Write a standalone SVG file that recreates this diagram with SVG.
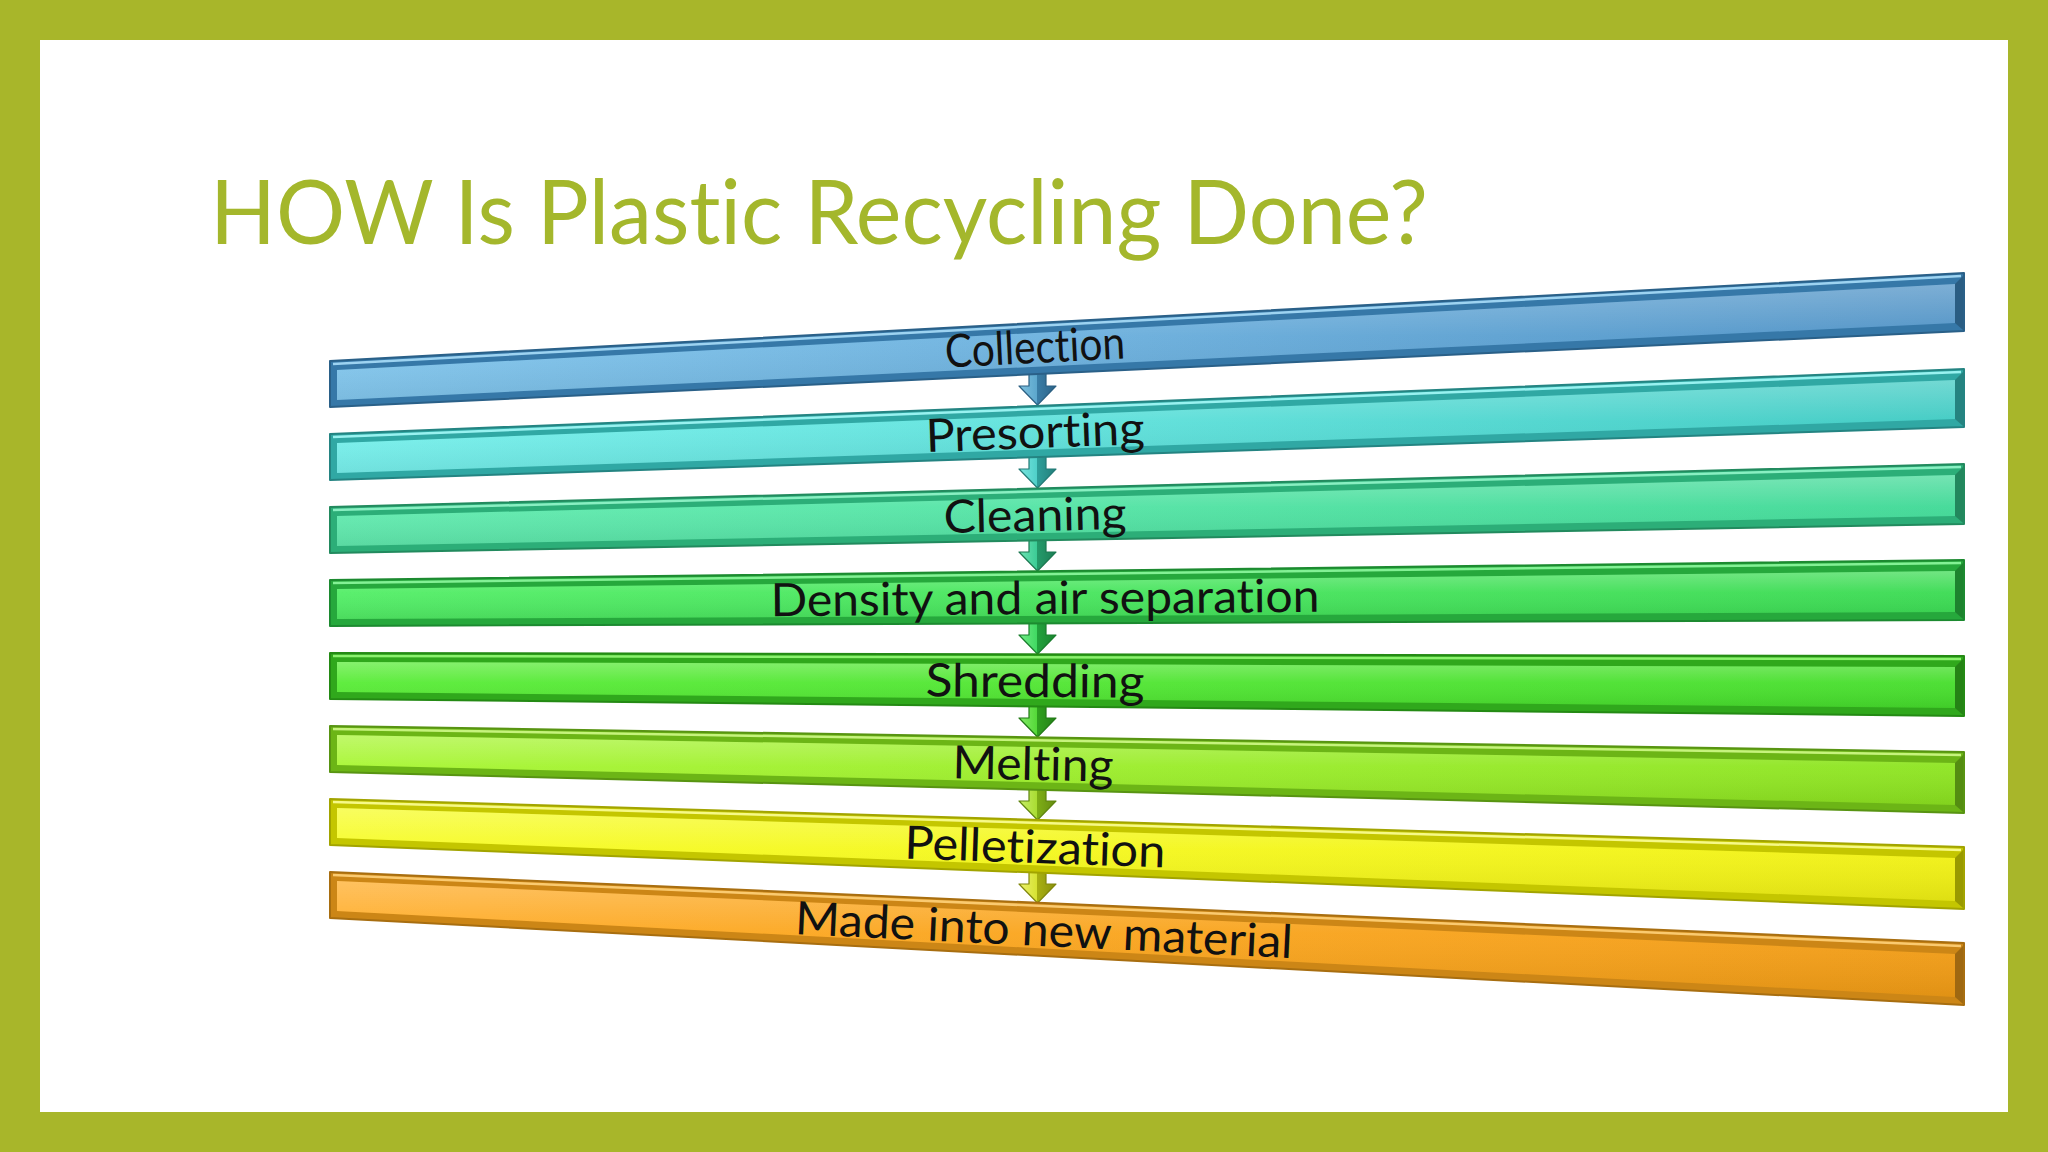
<svg xmlns="http://www.w3.org/2000/svg" width="2048" height="1152" viewBox="0 0 2048 1152">
<style>
text{font-variant-ligatures:none;font-feature-settings:"liga" 0,"clig" 0}
.title{font-family:Lato,"Open Sans","Liberation Sans",sans-serif;font-size:89px;font-weight:400;fill:#A4B72C}
.lbl{font-family:Lato,"Open Sans","Liberation Sans",sans-serif;font-size:46px;fill:#111;text-anchor:middle}
.hl{fill:none;stroke-width:2.5;opacity:.9}
.outer{stroke-width:2;stroke-linejoin:round}
.gloss{fill:url(#gloss)}
.cap{fill:#000;opacity:.22}
.arr{stroke-width:1.2;stroke-linejoin:round}
</style>
<defs>
<linearGradient id="gloss" x1="0" y1="0" x2="0" y2="1">
<stop offset="0" stop-color="#fff" stop-opacity=".28"/>
<stop offset=".45" stop-color="#fff" stop-opacity=".05"/>
<stop offset="1" stop-color="#000" stop-opacity=".08"/>
</linearGradient>
<linearGradient id="f0" x1="0" y1="0" x2="1" y2="0"><stop offset="0" stop-color="#86CBF2"/><stop offset="1" stop-color="#4A8FC4"/></linearGradient>
<linearGradient id="f1" x1="0" y1="0" x2="1" y2="0"><stop offset="0" stop-color="#7AF4F0"/><stop offset="1" stop-color="#3CCAC2"/></linearGradient>
<linearGradient id="f2" x1="0" y1="0" x2="1" y2="0"><stop offset="0" stop-color="#62ECB0"/><stop offset="1" stop-color="#3FD996"/></linearGradient>
<linearGradient id="f3" x1="0" y1="0" x2="1" y2="0"><stop offset="0" stop-color="#52EE66"/><stop offset="1" stop-color="#3ADB52"/></linearGradient>
<linearGradient id="f4" x1="0" y1="0" x2="1" y2="0"><stop offset="0" stop-color="#58EC36"/><stop offset="1" stop-color="#46DE2C"/></linearGradient>
<linearGradient id="f5" x1="0" y1="0" x2="1" y2="0"><stop offset="0" stop-color="#A8F632"/><stop offset="1" stop-color="#8DE420"/></linearGradient>
<linearGradient id="f6" x1="0" y1="0" x2="1" y2="0"><stop offset="0" stop-color="#F6FC22"/><stop offset="1" stop-color="#F2F214"/></linearGradient>
<linearGradient id="f7" x1="0" y1="0" x2="1" y2="0"><stop offset="0" stop-color="#FFAA22"/><stop offset="1" stop-color="#F49E16"/></linearGradient>
<linearGradient id="a0" x1="0" y1="0" x2="1" y2="0"><stop offset="0" stop-color="#7FC2E0"/><stop offset=".5" stop-color="#5BA6CC"/><stop offset=".5" stop-color="#3A7DA6"/><stop offset="1" stop-color="#2C6388"/></linearGradient>
<linearGradient id="a1" x1="0" y1="0" x2="1" y2="0"><stop offset="0" stop-color="#7AE6E0"/><stop offset=".5" stop-color="#4ECFC8"/><stop offset=".5" stop-color="#2E9E99"/><stop offset="1" stop-color="#237F7B"/></linearGradient>
<linearGradient id="a2" x1="0" y1="0" x2="1" y2="0"><stop offset="0" stop-color="#6EE4B4"/><stop offset=".5" stop-color="#3ACB95"/><stop offset=".5" stop-color="#249A6A"/><stop offset="1" stop-color="#1C7E55"/></linearGradient>
<linearGradient id="a3" x1="0" y1="0" x2="1" y2="0"><stop offset="0" stop-color="#74EC88"/><stop offset=".5" stop-color="#3ED860"/><stop offset=".5" stop-color="#22A23C"/><stop offset="1" stop-color="#1A8430"/></linearGradient>
<linearGradient id="a4" x1="0" y1="0" x2="1" y2="0"><stop offset="0" stop-color="#86EC6A"/><stop offset=".5" stop-color="#52D836"/><stop offset=".5" stop-color="#2FA01E"/><stop offset="1" stop-color="#258218"/></linearGradient>
<linearGradient id="a5" x1="0" y1="0" x2="1" y2="0"><stop offset="0" stop-color="#C8EE6A"/><stop offset=".5" stop-color="#A8DC30"/><stop offset=".5" stop-color="#7EAE16"/><stop offset="1" stop-color="#658C10"/></linearGradient>
<linearGradient id="a6" x1="0" y1="0" x2="1" y2="0"><stop offset="0" stop-color="#ECF270"/><stop offset=".5" stop-color="#D6E230"/><stop offset=".5" stop-color="#A8B012"/><stop offset="1" stop-color="#8A900C"/></linearGradient>
</defs>

<rect x="0" y="0" width="2048" height="1152" fill="#A8B62A"/>
<rect x="40" y="40" width="1968" height="1072" fill="#FFFFFF"/>

<text id="title" class="title" x="210" y="244" textLength="1218" lengthAdjust="spacingAndGlyphs">HOW Is Plastic Recycling Done?</text>

<g id="connectors">
<path class="arr" fill="url(#a0)" stroke="#2A5F82" d="M1029,366 H1046 V386 H1056 L1037.5,405 L1019,386 H1029 Z"/>
<path class="arr" fill="url(#a1)" stroke="#227A76" d="M1029,449 H1046 V469 H1056 L1037.5,488 L1019,469 H1029 Z"/>
<path class="arr" fill="url(#a2)" stroke="#1B7850" d="M1029,532 H1046 V552 H1056 L1037.5,571 L1019,552 H1029 Z"/>
<path class="arr" fill="url(#a3)" stroke="#187E2C" d="M1029,615 H1046 V635 H1056 L1037.5,654 L1019,635 H1029 Z"/>
<path class="arr" fill="url(#a4)" stroke="#227A16" d="M1029,698 H1046 V718 H1056 L1037.5,737 L1019,718 H1029 Z"/>
<path class="arr" fill="url(#a5)" stroke="#5E840E" d="M1029,781 H1046 V801 H1056 L1037.5,820 L1019,801 H1029 Z"/>
<path class="arr" fill="url(#a6)" stroke="#80860A" d="M1029,864 H1046 V884 H1056 L1037.5,903 L1019,884 H1029 Z"/>
</g>

<g id="step1">
<polygon class="outer" fill="#3678A8" stroke="#2A6088" points="330,361 1964,273 1964,331 330,407"/>
<polyline class="hl" stroke="#A8DDF8" points="333,364 1961,276"/>
<polygon fill="url(#f0)" points="337,370 1955,284 1955,323 337,400"/>
<polygon class="gloss" points="337,370 1955,284 1955,323 337,400"/>
<polygon class="cap" points="1955,284 1963,276 1963,330 1955,323"/>
<text class="lbl" x="1035" y="363" font-size="39" textLength="180" lengthAdjust="spacingAndGlyphs" transform="rotate(-2.87 1035 349)">Collection</text>
</g>

<g id="step2">
<polygon class="outer" fill="#30A8A4" stroke="#248482" points="330,434 1964,369 1964,427 330,480"/>
<polyline class="hl" stroke="#A4FAF8" points="333,437 1961,372"/>
<polygon fill="url(#f1)" points="337,443 1955,380 1955,419 337,473"/>
<polygon class="gloss" points="337,443 1955,380 1955,419 337,473"/>
<polygon class="cap" points="1955,380 1963,372 1963,426 1955,419"/>
<text class="lbl" x="1035" y="448" font-size="45" textLength="219" lengthAdjust="spacingAndGlyphs" transform="rotate(-2.07 1035 432)">Presorting</text>
</g>

<g id="step3">
<polygon class="outer" fill="#2CAE78" stroke="#228A5E" points="330,507 1964,464 1964,524 330,553"/>
<polyline class="hl" stroke="#94F6CA" points="333,510 1961,467"/>
<polygon fill="url(#f2)" points="337,516 1955,475 1955,516 337,546"/>
<polygon class="gloss" points="337,516 1955,475 1955,516 337,546"/>
<polygon class="cap" points="1955,475 1963,467 1963,523 1955,516"/>
<text class="lbl" x="1035" y="531" textLength="183" lengthAdjust="spacingAndGlyphs" transform="rotate(-1.26 1035 514)">Cleaning</text>
</g>

<g id="step4">
<polygon class="outer" fill="#26A83C" stroke="#1C8A30" points="330,580 1964,560 1964,620 330,626"/>
<polyline class="hl" stroke="#8EF89E" points="333,583 1961,563"/>
<polygon fill="url(#f3)" points="337,589 1955,571 1955,612 337,619"/>
<polygon class="gloss" points="337,589 1955,571 1955,612 337,619"/>
<polygon class="cap" points="1955,571 1963,563 1963,619 1955,612"/>
<text class="lbl" x="1045" y="614" textLength="549" lengthAdjust="spacingAndGlyphs" transform="rotate(-0.46 1045 597)">Density and air separation</text>
</g>

<g id="step5">
<polygon class="outer" fill="#30A81C" stroke="#248A14" points="330,653 1964,656 1964,716 330,699"/>
<polyline class="hl" stroke="#96F878" points="333,656 1961,659"/>
<polygon fill="url(#f4)" points="337,662 1955,667 1955,708 337,692"/>
<polygon class="gloss" points="337,662 1955,667 1955,708 337,692"/>
<polygon class="cap" points="1955,667 1963,659 1963,715 1955,708"/>
<text class="lbl" x="1035" y="697" textLength="219" lengthAdjust="spacingAndGlyphs" transform="rotate(0.35 1035 680)">Shredding</text>
</g>

<g id="step6">
<polygon class="outer" fill="#6CB516" stroke="#589412" points="330,726 1964,752 1964,813 330,772"/>
<polyline class="hl" stroke="#D0FA88" points="333,729 1961,755"/>
<polygon fill="url(#f5)" points="337,735 1955,763 1955,805 337,765"/>
<polygon class="gloss" points="337,735 1955,763 1955,805 337,765"/>
<polygon class="cap" points="1955,763 1963,755 1963,812 1955,805"/>
<text class="lbl" x="1033" y="780" textLength="161" lengthAdjust="spacingAndGlyphs" transform="rotate(1.16 1033 763)">Melting</text>
</g>

<g id="step7">
<polygon class="outer" fill="#C4C600" stroke="#A2A400" points="330,799 1964,847 1964,909 330,845"/>
<polyline class="hl" stroke="#FCFE96" points="333,802 1961,850"/>
<polygon fill="url(#f6)" points="337,808 1955,858 1955,901 337,838"/>
<polygon class="gloss" points="337,808 1955,858 1955,901 337,838"/>
<polygon class="cap" points="1955,858 1963,850 1963,908 1955,901"/>
<text class="lbl" x="1035" y="863" textLength="261" lengthAdjust="spacingAndGlyphs" transform="rotate(1.96 1035 846)">Pelletization</text>
</g>

<g id="step8">
<polygon class="outer" fill="#CC8616" stroke="#A86E10" points="330,872 1964,943 1964,1005 330,918"/>
<polyline class="hl" stroke="#FFD27A" points="333,875 1961,946"/>
<polygon fill="url(#f7)" points="337,881 1955,954 1955,997 337,911"/>
<polygon class="gloss" points="337,881 1955,954 1955,997 337,911"/>
<polygon class="cap" points="1955,954 1963,946 1963,1004 1955,997"/>
<text class="lbl" x="1044" y="946" textLength="498" lengthAdjust="spacingAndGlyphs" transform="rotate(2.77 1044 929)">Made into new material</text>
</g>
</svg>
